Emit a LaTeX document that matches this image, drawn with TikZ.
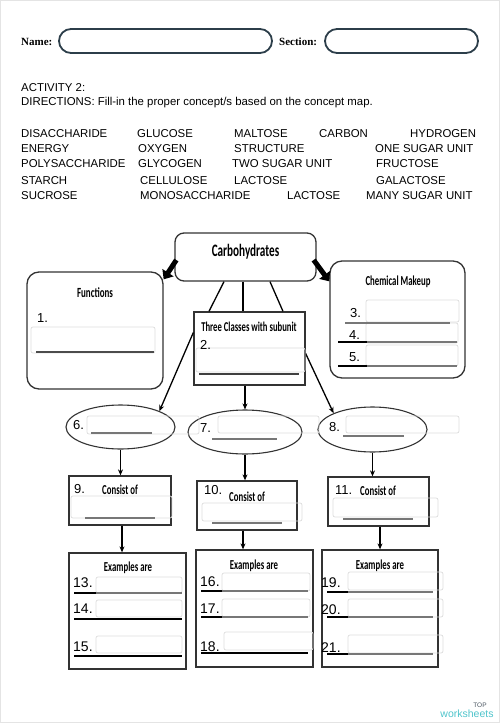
\documentclass[tikz,border=0pt]{standalone}
\usepackage{fontspec}
\setmainfont{Liberation Sans}
\newfontfamily\cf[FakeStretch=0.64]{Carlito}
\newfontfamily\nmf{Liberation Serif}
\usetikzlibrary{arrows.meta,shapes.geometric,calc}
\definecolor{namec}{HTML}{2C3E4A}
\definecolor{fieldc}{HTML}{DCDCDC}
\definecolor{ulgray}{HTML}{777777}
\definecolor{boxc}{HTML}{333333}
\definecolor{topc}{HTML}{4A5560}
\definecolor{wsc}{HTML}{4FC4CB}
\definecolor{pagec}{HTML}{E4E4E4}
\begin{document}
\begin{tikzpicture}[x=1pt,y=-1pt,
 box/.style={draw=boxc,line width=1.3pt,inner sep=0pt},
 rbox/.style={box,rounded corners=12pt},
 namebox/.style={draw=namec,line width=1.8pt,rounded corners=12pt,inner sep=0pt},
 nm/.style={anchor=west,inner sep=0pt,font=\nmf\bfseries\fontsize{11}{13}\selectfont},
 word/.style={anchor=west,inner sep=0pt,font=\fontsize{11.4}{13}\selectfont},
 num/.style={anchor=west,inner sep=0pt,font=\fontsize{13}{15}\selectfont},
 bnum/.style={anchor=west,inner sep=0pt,font=\fontsize{14}{16}\selectfont},
 lab/.style={inner sep=0pt,font=\cf\bfseries\fontsize{13.7}{16}\selectfont},
 field/.style={draw=fieldc,line width=0.7pt,rounded corners=2pt},
 ulg/.style={draw=ulgray,line width=1.3pt},
 ulb/.style={draw=black,line width=1.6pt},
 conn/.style={draw=black,line width=1.3pt},
 arr/.style={conn,-{Stealth[length=6pt,width=5pt]}},
 bigarr/.style={draw=black,line width=5pt,-{Triangle[length=8pt,width=13pt]}},
]
\useasboundingbox (0,0) rectangle (500,723);
\draw[pagec,line width=1.2pt] (0.6,0.6) rectangle (499.4,722.4);

% header
\node[nm] (lname) at (21,42) {Name:};
\node[namebox,minimum width=213pt,minimum height=24pt] (bname) at (165.5,41) {};
\node[nm] (lsec) at (279,42) {Section:};
\node[namebox,minimum width=153pt,minimum height=24pt] (bsec) at (401.5,41) {};

\node[word] (act) at (21,88) {ACTIVITY 2:};
\node[word] (dir) at (21,103) {DIRECTIONS: Fill-in the proper concept/s based on the concept map.};

% word bank
\node[word] (w1) at (21,134) {DISACCHARIDE};
\node[word] (w2) at (137,134) {GLUCOSE};
\node[word] (w3) at (234,134) {MALTOSE};
\node[word] (w4) at (319,134) {CARBON};
\node[word] (w5) at (410,134) {HYDROGEN};
\node[word] (w6) at (21,149) {ENERGY};
\node[word] (w7) at (138,149) {OXYGEN};
\node[word] (w8) at (234,149) {STRUCTURE};
\node[word] (w9) at (375,149) {ONE SUGAR UNIT};
\node[word] (w10) at (21,164) {POLYSACCHARIDE};
\node[word] (w11) at (138,164) {GLYCOGEN};
\node[word] (w12) at (232,164) {TWO SUGAR UNIT};
\node[word] (w13) at (376,164) {FRUCTOSE};
\node[word] (w14) at (21,181) {STARCH};
\node[word] (w15) at (140,181) {CELLULOSE};
\node[word] (w16) at (234,181) {LACTOSE};
\node[word] (w17) at (376,181) {GALACTOSE};
\node[word] (w18) at (21,196) {SUCROSE};
\node[word] (w19) at (140,196) {MONOSACCHARIDE};
\node[word] (w20) at (287,196) {LACTOSE};
\node[word] (w21) at (366,196) {MANY SUGAR UNIT};

% main boxes
\node[rbox,rounded corners=9pt,minimum width=141pt,minimum height=48pt] (carb) at (245.5,257) {};
\node[lab,font=\cf\bfseries\fontsize{17.5}{19}\selectfont] (carbt) at (245.5,252) {Carbohydrates};
\node[rbox,minimum width=136pt,minimum height=117pt] (func) at (95,330.5) {};
\node[lab,font=\cf\bfseries\fontsize{14}{16}\selectfont] (funct) at (95,293) {Functions};
\node[rbox,minimum width=135pt,minimum height=117pt] (chem) at (397.5,319.5) {};
\node[lab] (chemt) at (398,282) {Chemical Makeup};
\node[box,fill=white,minimum width=111pt,minimum height=73pt] (three) at (249.5,348.5) {};
\node[lab,font=\cf\bfseries\fontsize{13.5}{16}\selectfont] (threet) at (249,327) {Three Classes with subunit};

% ellipses
\node[draw=boxc,line width=1.1pt,ellipse,inner sep=0pt,minimum width=109pt,minimum height=44pt] (e6) at (120.5,427) {};
\node[draw=boxc,line width=1.1pt,ellipse,inner sep=0pt,minimum width=114pt,minimum height=44pt] (e7) at (245,432) {};
\node[draw=boxc,line width=1.1pt,ellipse,inner sep=0pt,minimum width=109pt,minimum height=45pt] (e8) at (372.5,429.5) {};

% consist boxes
\node[box,minimum width=102pt,minimum height=49pt] (b9) at (120,500.5) {};
\node[box,minimum width=100pt,minimum height=49pt] (b10) at (247,505.5) {};
\node[box,minimum width=101pt,minimum height=49pt] (b11) at (378.5,501.5) {};
\node[lab] (c9) at (120,490) {Consist of};
\node[lab] (c10) at (247,497) {Consist of};
\node[lab] (c11) at (378,491) {Consist of};

% example boxes
\node[box,minimum width=117pt,minimum height=116pt] (ex1) at (127.5,611) {};
\node[box,minimum width=117pt,minimum height=117pt] (ex2) at (254.5,608.5) {};
\node[box,minimum width=116pt,minimum height=117pt] (ex3) at (380,608.5) {};
\node[lab] (x1) at (128,568) {Examples are};
\node[lab] (x2) at (254,566) {Examples are};
\node[lab] (x3) at (380,566) {Examples are};

% connectors
\draw[bigarr] ([xshift=2pt,yshift=-3pt]carb.west) -- ([yshift=-8pt]func.north east);
\draw[bigarr] ([xshift=-3pt,yshift=-3pt]carb.east) -- ([yshift=-21pt]chem.north west);
\draw[conn] ([xshift=-21.5pt]carb.south) -- ([xshift=-40.5pt]three.north);
\draw[conn] ([xshift=-2.5pt]carb.south) -- ([xshift=-6.5pt]three.north);
\draw[conn] ([xshift=24.5pt]carb.south) -- ([xshift=33.5pt]three.north);
\draw[arr] ([yshift=16pt]three.west) -- (e6.north east);
\draw[arr] (e7.north |- three.south) -- (e7.north);
\draw[arr] ([yshift=-5pt]three.east) -- (e8.north west);
\draw[arr] (e6.south) -- (e6.south |- b9.north);
\draw[arr] (e7.south) -- (b10.north -| e7.south);
\draw[arr] (e8.south) -- (b11.north -| e8.south);
\draw[arr] ([xshift=2pt]b9.south) -- ([xshift=2pt]b9.south |- ex1.north);
\draw[arr] ([xshift=-4pt]b10.south) -- ([xshift=-4pt]b10.south |- ex2.north);
\draw[arr] ([xshift=1.5pt]b11.south) -- ([xshift=1.5pt]b11.south |- ex3.north);

% fields
\draw[field] (31,327) rectangle (155,353);
\draw[field] (196,348) rectangle (305,372);
\draw[field] (366,300) rectangle (459,322);
\draw[field] (366,323) rectangle (458,343);
\draw[field] (366,345) rectangle (458,366);
\draw[field] (87,416) rectangle (199,434);
\draw[field] (218,416) rectangle (319,433);
\draw[field] (346,416) rectangle (459,433);
\draw[field] (71,496) rectangle (172,518);
\draw[field] (202,503) rectangle (302,521);
\draw[field] (333,498) rectangle (438,517);
\draw[field] (96,577) rectangle (182,593);
\draw[field] (96,600) rectangle (182,617);
\draw[field] (96,636) rectangle (182,653);
\draw[field] (222,573) rectangle (310,591);
\draw[field] (222,599) rectangle (310,617);
\draw[field] (224,632) rectangle (313,650);
\draw[field] (348,572) rectangle (443,590);
\draw[field] (348,599) rectangle (443,617);
\draw[field] (348,635) rectangle (443,653);

% underlines
\draw[ulg,draw=black!70] (36,352) -- (154,352);
\draw[ulg,draw=black!75] (199,374) -- (299,374);
\draw[ulg] (345,323) -- (450,323);
\draw[ulg] (367,342) -- (457,342); \draw[ulb] (338,342) -- (367,342);
\draw[ulg] (367,366) -- (457,366); \draw[ulb] (338,366) -- (367,366);
\draw[ulg] (91,433) -- (152,433);
\draw[ulg] (212,439) -- (277,439);
\draw[ulg] (343,436) -- (404,436);
\draw[ulg] (85,518) -- (155,518);
\draw[ulg] (212,523) -- (282,523);
\draw[ulg] (343,519) -- (413,519);
\draw[ulg] (96,593) -- (182,593); \draw[ulb] (74,593) -- (96,593);
\draw[ulb] (74,619) -- (182,619);
\draw[ulb] (74,656) -- (182,656);
\draw[ulg] (222,591) -- (308,591); \draw[ulb] (201,591) -- (222,591);
\draw[ulg] (222,617) -- (308,617); \draw[ulb] (201,617) -- (222,617);
\draw[ulb] (201,653) -- (308,653);
\draw[ulg] (348,592) -- (433,592); \draw[ulb] (327,592) -- (348,592);
\draw[ulg] (348,617) -- (433,617); \draw[ulb] (327,617) -- (348,617);
\draw[ulg] (348,654) -- (433,654); \draw[ulb] (327,654) -- (348,654);

% numbers
\node[num] (n1) at (37,318) {1.};
\node[num] (n2) at (200,345) {2.};
\node[num] (n3) at (350,313) {3.};
\node[num] (n4) at (349,335) {4.};
\node[num] (n5) at (349,357) {5.};
\node[num] (n6) at (73,425) {6.};
\node[num] (n7) at (200,428) {7.};
\node[num] (n8) at (329,427) {8.};
\node[num] (n9) at (74,489) {9.};
\node[num] (n10) at (204,490) {10.};
\node[num] (n11) at (335,490) {11.};
\node[bnum] (n13) at (73,583) {13.};
\node[bnum] (n14) at (73,609) {14.};
\node[bnum] (n15) at (73,647) {15.};
\node[bnum] (n16) at (200,582) {16.};
\node[bnum] (n17) at (200,609) {17.};
\node[bnum] (n18) at (200,647) {18.};
\node[bnum] (n19) at (321,583) {19.};
\node[bnum] (n20) at (321,610) {20.};
\node[bnum] (n21) at (321,648) {21.};

% logo
\node[inner sep=0pt,text=topc,font=\fontsize{6.5}{7}\selectfont] (top) at (480,705) {TOP};
\node[inner sep=0pt,text=wsc,font=\fontsize{10.5}{12}\selectfont] (ws) at (467,714) {worksheets};
\end{tikzpicture}
\end{document}
